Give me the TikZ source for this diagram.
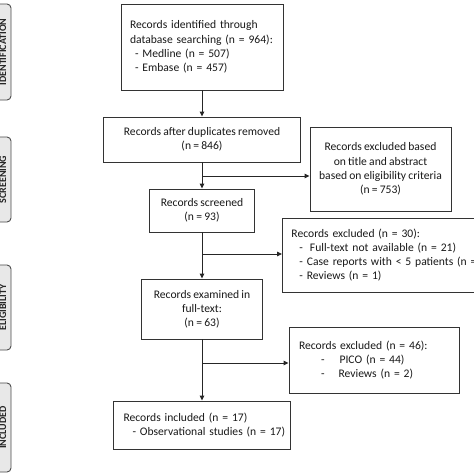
\documentclass[tikz,border=0pt]{standalone}
\usepackage{fontspec}
\setmainfont{Carlito}[WordSpace=0.85]
\usetikzlibrary{arrows.meta}

\begin{document}
\begin{tikzpicture}[x=1pt,y=-1pt,
  record/.style={draw=black!80, line width=0.9pt, inner sep=0pt, font=\fontsize{11.6}{14.2}\selectfont, text=black!90},
  phase/.style={draw=black!70, line width=0.9pt, fill=gray!18, rounded corners=4pt, rotate=90,
    minimum height=16pt, inner sep=0pt, font=\fontsize{10}{12}\selectfont\bfseries, text=black!85},
  flow/.style={line width=0.9pt, draw=black!85, -{Triangle[length=5pt,width=4.5pt]}}]
\clip (0,0) rectangle (474,474);
\fill[white] (0,0) rectangle (474,474);

% phases on the left
\node[phase, minimum width=96pt] (ident) at (3,52) {IDENTIFICATION};
\node[phase, minimum width=85pt] (screen) at (3,179.5) {SCREENING};
\node[phase, minimum width=85pt] (elig) at (3,307.5) {ELIGIBILITY};
\node[phase, minimum width=89pt] (incl) at (3,427.5) {INCLUDED};

% main column
\node[record, minimum width=162pt, minimum height=86pt, text width=144pt, align=left] (identified) at (202,47)
  {\mbox{Records identified through}\\\mbox{database searching (n = 964):}\\\hspace*{5pt}- Medline (n = 507)\\\hspace*{5pt}- Embase (n = 457)};
\node[record, minimum width=197pt, minimum height=45pt, align=center] (dupl) at (202,139.5)
  {Records after duplicates removed\\(n = 846)};
\node[record, minimum width=105pt, minimum height=43pt, align=center] (screened) at (202,210.5)
  {Records screened\\(n = 93)};
\node[record, minimum width=121pt, minimum height=60pt, align=center] (fulltext) at (202,309)
  {Records examined in\\full-text:\\(n = 63)};
\node[record, minimum width=177pt, minimum height=48pt, text width=157pt, align=left] (included) at (202,425)
  {\mbox{Records included (n = 17)}\\\hspace*{9pt}\mbox{- Observational studies (n = 17)}};

% exclusions on the right
\node[record, minimum width=141pt, minimum height=84pt, align=center] (excl1) at (380.5,169)
  {Records excluded based\\on title and abstract\\based on eligibility criteria\\(n = 753)};
\node[record, anchor=west, minimum width=215pt, minimum height=74pt, text width=197pt, align=left] (excl2) at (282,255)
  {\mbox{Records excluded (n = 30):}\\\hspace*{8pt}\mbox{-\hspace{7pt}Full-text not available (n = 21)}\\\hspace*{8pt}\mbox{- Case reports with < 5 patients (n = 4)}\\\hspace*{8pt}\mbox{- Reviews (n = 1)}};
\node[record, minimum width=170pt, minimum height=66pt, text width=150pt, align=left] (excl3) at (374,360)
  {\mbox{Records excluded (n = 46):}\\\hspace*{22pt}-\hspace{15pt}PICO (n = 44)\\\hspace*{22pt}-\hspace{14pt}Reviews (n = 2)};

% connectors
\coordinate (b1) at (202,176);
\coordinate (b2) at (202,254);
\coordinate (b3) at (202,363);
\draw[flow] (identified) -- (dupl);
\draw[flow] (dupl) -- (screened);
\draw[flow] (b1) -- (b1 -| excl1.west);
\draw[flow] (screened) -- (fulltext);
\draw[flow] (b2) -- (b2 -| excl2.west);
\draw[flow] (fulltext) -- (included);
\draw[flow] (b3) -- (b3 -| excl3.west);
\end{tikzpicture}
\end{document}
